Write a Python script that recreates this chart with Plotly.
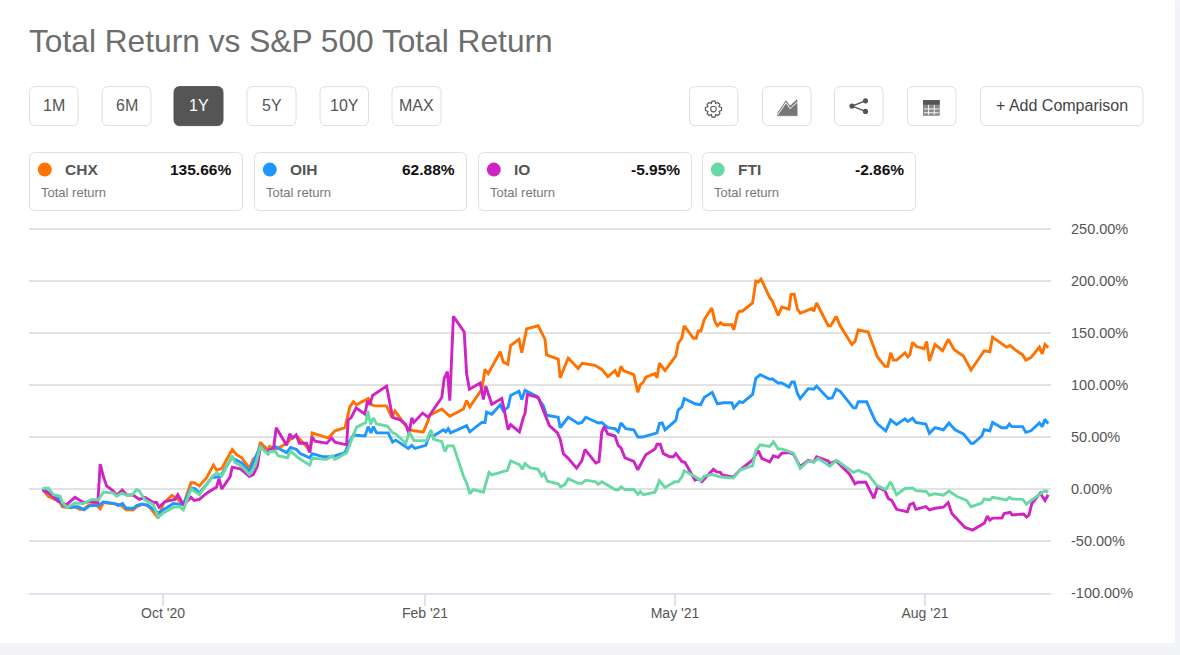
import plotly.graph_objects as go

TITLE = "Total Return vs S&P 500 Total Return"
RANGE_LABELS = ["1M", "6M", "1Y", "5Y", "10Y", "MAX"]
TICKERS = ["CHX", "OIH", "IO", "FTI"]
RETURNS = ["135.66%", "62.88%", "-5.95%", "-2.86%"]
COLORS = ["#FF7200", "#1E96FF", "#D023C4", "#68D8A5"]
Y_TICKS = [250, 200, 150, 100, 50, 0, -50, -100]
Y_LABELS = ["250.00%", "200.00%", "150.00%", "100.00%", "50.00%", "0.00%", "-50.00%", "-100.00%"]
X_TICKS = [30.5, 96, 158.5, 221]
X_LABELS = ["Oct '20", "Feb '21", "May '21", "Aug '21"]

chx_x = [0.4,1.8,3.5,4.3,5.3,7.3,8.5,9.6,10.6,11.8,13.5,14.8,15.6,18.5,19.8,21.3,23.1,23.9,25.2,26.4,27.7,29.3,30.6,32.7,33.9,35.6,37.5,38.3,39.6,41.4,43.1,43.9,45.2,47.8,48.9,50.2,52.1,53.1,54.1,54.8,56.8,
57.2,58.5,60.6,62.7,63.9,66.4,67.2,67.8,71.8,73.5,76,77.2,78.1,78.9,81.8,82.7,83.5,86.4,87.7,88.5,90.2,91.8,93.1,95.6,96.8,97.2,100.2,102.2,105.6,106.4,107.2,110.2,111,111.8,114.8,115.6,116.7,117.4,119.5,120.2,121.4,124.3,126,126.4,129.3,
129.8,131.8,134.3,135.3,138.5,140.2,141.7,143.5,144.3,145,145.6,148.2,149.2,149.8,150.6,151.2,153.5,154,154.6,156,158.7,159.3,160.2,160.8,163.1,163.8,164.3,165,165.8,167.7,168.5,169.1,169.9,170.6,172.7,173.2,174.1,174.6,175.3,177.9,178.7,179.3,180,182.2,182.8,184.3,185.2,187,187.5,188.3,189.1,
189.8,192.7,193.2,193.9,196.8,197.4,198.8,199.8,202.7,203.5,204.3,206.8,209.1,211,211.7,212.4,213.1,213.9,216,216.7,217.2,217.9,218.9,220.8,221.4,222.1,223.5,225.4,226.8,228.3,230.6,231.4,232.5,235.8,237.2,237.9,238.7,241.4,242.3,243.5,245.4,246.2,247.5,249.6,250.3,251,251.8]
chx_y = [0,-7,-10,-9,-17,-18,-17,-19.5,-19.5,-16,-14,-19,-13,-14,-15,-20,-20,-17,-15,-15,-20,-28,-14,-6,-9,-15,6,6,3,11,23,18,20,38,33,30,20,29,32,45,37,
41,38,42,49,51,41,36,54,49,56,59,79,84,81,87,81,80,80,69,75,66,58,56,55,66,71,77,70,77,85,79,96,115,111,132,122,120,138,144,131,154,157,144,129,125,
107,126,116,121,119,115,108,114,108,118,114,110,93,100,103,107.5,111,107,121,114,128,140,145,157,145,145,152,152,163,174,161,157,160,158,158,153,168,171,171,179,200,199,202,184,181,167,175,173,187,187.5,173,
169,173.5,171,179,157,157,166,157,139,142,153,151,127,118,118,131,124,124,131,127,129,141,137,135,142,123,139,133,144,134,128,122,114.5,133,132,146,144,136.5,138,134,129,124,126.5,136.5,130,139,136]

oih_x = [0.4,1.8,4.3,5.3,7.3,9.3,10.8,12.2,14.3,15.6,18.5,19.3,20.4,21.3,23.1,23.9,25.2,26.8,29.3,33.1,35.6,37.5,38.5,39.6,42.7,44.8,47.7,50.2,52.1,54.8,56.8,
57.2,58.5,61.4,62.4,63.9,64.8,67.2,67.8,70.6,72.7,76,77.2,78.1,81,81.8,82.5,83.1,83.9,86.8,87.9,88.7,91.8,92.7,93.5,96.2,97.2,98.1,100.6,101.2,101.8,102.4,106.4,107.2,110.2,111,111.4,112.7,114.8,115.6,116.8,117.4,119.5,120.2,121,124,124.8,125.6,126.4,129.3,
129.8,130.6,131.8,134.3,135.2,136.2,139.3,140.2,141.7,143.5,144.3,145,146.2,148.2,149.2,150.4,153.5,154,154.6,155.3,156,158.7,159.3,160.2,160.8,163.5,164.9,165.8,167.8,169.1,170.6,172.7,173.2,174.6,175.4,177.9,178.7,179.8,182.2,182.8,184.3,185.2,187,187.7,188.3,189.1,
189.8,191.8,193.2,193.9,196.8,197.8,198.8,199.8,203.1,203.7,204.3,206.4,208.5,209.3,211.2,212.4,213.9,216,216.7,217.9,218.7,221.2,222.1,223.5,225.6,227,228.5,230.6,232.5,233.1,235.2,235.8,237.2,237.9,240.2,241.4,242.1,242.7,245.4,246.2,247.5,249.6,250.3,251,251.8]
oih_y = [0,-3,-9,-15,-17.5,-17,-20,-16,-16,-12.5,-14,-16,-14,-18.5,-18.5,-16,-14.5,-16,-23,-14,-15,1,0.5,-4,11,12,30,25,17,41,34,
37,41,35,40,38,34,30,34,31,31,35,46,52,51,60,54,60,54,54,45,47,39,42,39,42,53,51,57,55,58,54,61,55,64,64,74,72,81,75,79,90,94,86,95,89,84,80,71,69,
59,63,69,63,64,69,63.5,64,59,58,55,63.5,58,57,50,50,54,54,63,63.5,57,66,76,79,87,82,81,88,93,82,83,83,78,84,83,91,106.5,110,105.5,106,102,102,98,103,103,92,
87,96.5,96,99,87,87.5,96,94,78,78,84,84,66,62,56,66.5,62,67.5,65,68,64,62.5,53.5,59,57,63.5,57,53,44,44,51,57,56,64,59,59,62.5,60,60,54.5,56,63.5,60,67,63]

io_x = [0.4,2.3,4.3,6.4,8.5,10.6,12.7,14.2,14.8,15.6,16.4,18.1,18.9,20.3,21.4,23.1,24.6,26,28.1,28.9,29.5,31,33.5,34.2,35.6,37.5,38.3,39.6,41.4,43.9,44.5,45.2,47.3,47.8,49.8,52.1,53.1,54.1,54.8,56.8,
57.2,58.1,58.8,61.4,62.2,62.9,63.8,64.6,66.4,67.2,67.8,68.5,71.4,72.7,73.5,76.4,76.8,77.5,78.8,81,81.6,82.2,82.9,86.4,87.9,89.8,91.2,92,92.7,93.2,95.4,96.8,100.2,100.8,101.6,102.2,103.1,105.8,106.4,107.1,109.8,110.6,111.2,112.7,115.2,116,116.8,117.4,119.6,120.6,121,121.6,124.3,127.1,129.1,
129.8,130.6,131.8,133.9,135.2,136,138.7,139.5,140.2,140.8,141.7,143.5,144.3,145,146,148.2,149.2,151.2,153.5,154,154.8,155.6,157.2,158.1,158.7,160.2,161,163.5,164.3,165.2,168.1,168.9,169.8,170.3,173.1,174.8,177.9,179.3,180.2,182.2,183.1,184.3,185.2,187.2,188.1,
189.8,191.8,193.2,193.9,196.8,197.2,198.8,202.2,203.5,204.3,206.2,208.2,209.1,211,211.8,212.7,213.9,216.6,217.2,218.1,218.7,221.2,222.1,223.5,225.6,226.8,227.7,231,232.9,235.8,236.6,237.2,237.9,240.2,240.8,242.3,242.8,245.6,246.4,247,247.7,249.8,251,251.8]
io_y = [-1,-5,-12,-15,-8,-13,-12,-13,24,12,3,-2,-6,-1,-5.5,-6,-10,-8,-13,-13,-17.5,-12,-10,-5.5,-15,-8,-11,-10,-4,2,10,0,12,21,19.5,12,14,22,40,35,
38,38,59,42,53,49,52,44,44,35,50,46,44,49,45,42.5,66.5,68.5,78,72,85,81,90,99,69,66.5,62,53,68.5,64,73,69,88,106.5,113,85,166,151,111,96,102,86,99,81.5,87,71,57,62,55,69,72.5,91,88,61,54,
48,34,29.5,20,27,38,25,26.5,55,60,53,51,42,39.5,30,26.5,18.5,33,38.5,43,43,34,31,31,34,26.5,25.5,8.5,10,7,19,16.5,16,13.5,11.5,18.5,28,37,29.5,26,32,30.5,34.5,35,33.5,
21.5,27.5,26,31,27,24.5,27,14,5,6.5,6.5,-9,2,-1.5,-9,-11,-19.5,-22,-15,-13.5,-19.5,-17,-20,-18.5,-17.5,-13,-23.5,-37,-39.5,-33,-26,-30,-28,-28,-23.5,-22.5,-25,-24,-27,-25,-14,-4,-11,-5.5]

fti_x = [0.4,1.8,3.1,4.8,5.3,6.6,8.5,10.6,12.7,14.3,15.6,18.1,18.9,20.2,21.4,22.7,23.9,24.6,26,28.1,29.3,31,33.1,34.6,35.6,37.5,39.6,42.7,43.9,45.2,47.8,48.5,50.2,52.1,53.5,54.8,56.8,
57.2,58.5,59.3,61.6,62.4,64.3,67.2,67.8,71.4,72.8,73.5,76.4,78.1,78.9,81.2,81.7,82.4,83.1,83.9,86.6,87.9,88.7,91.2,92.1,93.2,96.4,97.5,98.1,100.2,101,101.6,103.1,105.6,106.4,107.2,108.1,110.6,112,112.7,115.6,116.6,117.4,119.6,120.3,121,122.2,124.3,125.2,125.8,126.6,129.3,129.9,
131,131.8,134.3,135.2,136.2,138.7,139.3,140.2,143.5,144.3,145,146,148.2,149.2,149.8,150.6,153.5,154.6,156,158.5,159.3,160.2,160.8,163.5,164.9,165.8,167.8,169.9,173.1,174.8,177.9,178.7,179.8,182.2,183.1,184.3,185.2,188.1,189.8,
191.8,193.2,194.3,197.2,198.9,203.1,204.3,206.8,208.9,211.2,212.4,213.9,216,217.9,218.7,221.4,222.1,223.5,225.6,227,228.9,231.4,232.5,235.2,235.8,237.2,237.9,240.2,241.4,242.1,242.7,245.4,246.4,247.5,251,251.8]
fti_y = [0.5,1,-5.5,-7,-13,-17.5,-13.5,-14,-10,-10.5,-3,-4,-7,-4,-6,-6,-0.5,-2,-10.5,-15,-27,-22,-17.5,-17,-20,0,-5.5,11.5,15.5,12.5,32,25.5,22,14,22,40.5,33.5,
36,36.5,32,30,36.5,30,23,29.5,28.5,32,28.5,35,51,59.5,64,75,62,68.5,62.5,60.5,54,53,44,55,46.5,46.5,57,48,45.5,36,41.5,41.5,12.5,6,-4.5,-0.5,-3,16,13.5,17,18,27,23.5,19,24.5,20.5,19,12.5,15,7.5,5,2,
4.5,10,5.5,5.5,8.5,7,4.5,7,-0.5,-1,2,-0.5,-0.5,-5,-2.5,-5.5,-3,8,1.5,7,7,11.5,17.5,12,8,12.5,14,11.5,10.5,18.5,22.5,37,42.5,41,45.5,38.5,38.5,34.5,20,
27,26,29.5,22,27.5,16,18,14,3.5,-0.5,7,-5.5,0.5,1,-1.5,-2.5,-6,-4.5,-6,-2,-7,-11,-17,-13.5,-9.5,-10.5,-8,-10,-10.5,-8,-9.5,-10,-14.5,-11,-1.5,-3]

# ---- layout geometry (page pixels) ----
W, H = 1180, 655
L, R, T, B = 29, 1051, 226.92, 593
FONT = "Liberation Sans, Arial, sans-serif"


def px(x):
    return (x - L) / (R - L)


def py(y):
    return (B - y) / (B - T)


def rr_path(x0, y0, x1, y1, r):
    a, b, c, d = px(x0), px(x1), py(y0), py(y1)
    rx, ry = r / (R - L), r / (B - T)
    return (f"M{a+rx},{c} L{b-rx},{c} Q{b},{c} {b},{c-ry} L{b},{d+ry} Q{b},{d} {b-rx},{d} "
            f"L{a+rx},{d} Q{a},{d} {a},{d+ry} L{a},{c-ry} Q{a},{c} {a+rx},{c} Z")


def poly(points, close=True):
    s = "M" + " L".join(f"{px(x)},{py(y)}" for x, y in points)
    return s + (" Z" if close else "")


shapes, annos = [], []


def box(x0, y0, x1, y1, r=6, line="#DEDEDE", fill="white", w=1):
    shapes.append(dict(type="path", xref="paper", yref="paper", path=rr_path(x0, y0, x1, y1, r),
                       line=dict(color=line, width=w), fillcolor=fill, layer="below"))


def text(x, y, s, size, color, anchor="left", bold=False):
    annos.append(dict(xref="paper", yref="paper", x=px(x), y=py(y), text=f"<b>{s}</b>" if bold else s,
                      showarrow=False, xanchor=anchor, yanchor="middle", align=anchor,
                      font=dict(family=FONT, size=size, color=color)))


def rect(x0, y0, x1, y1, fill, line=None, w=0, layer="above"):
    shapes.append(dict(type="rect", xref="paper", yref="paper", x0=px(x0), x1=px(x1), y0=py(y0), y1=py(y1),
                       fillcolor=fill, line=dict(color=line or fill, width=w), layer=layer))


def circle(cx, cy, r, fill, line=None, w=0):
    shapes.append(dict(type="circle", xref="paper", yref="paper", x0=px(cx - r), x1=px(cx + r),
                       y0=py(cy - r), y1=py(cy + r), fillcolor=fill,
                       line=dict(color=line or fill, width=w), layer="above"))


def pline(points, color, w, fill=None, close=False):
    shapes.append(dict(type="path", xref="paper", yref="paper", path=poly(points, close),
                       line=dict(color=color, width=w), fillcolor=fill or "rgba(0,0,0,0)", layer="above"))


# page strips
rect(1175, 0, 1180, 655, "#F2F4F8", layer="below")
rect(0, 643, 1180, 655, "#F2F4F8", layer="below")

# range buttons
btn_x = [(29.5, 78), (102, 151), (174, 223), (247, 296), (320, 368.5), (392, 441)]
for (a, b), lab in zip(btn_x, RANGE_LABELS):
    on = lab == "1Y"
    box(a, 86.5, b, 125.5, 6, line="#555555" if on else "#DEDEDE", fill="#555555" if on else "white")
    text((a + b) / 2, 105.5, lab, 16, "white" if on else "#555555", "center")

# tool buttons
for a, b in [(689.5, 738), (762.5, 811), (834.5, 883), (907.5, 956), (980.5, 1143)]:
    box(a, 86.5, b, 125.5, 6)
text(1061.5, 105.5, "+ Add Comparison", 16, "#444444", "center")

# gear icon
gear = [(712, 101), (715, 101), (715.6, 103.4), (717.8, 102.4), (720, 104.4), (719, 106.6), (721.6, 107.4),
        (721.6, 110.4), (719, 111.2), (720, 113.4), (717.8, 115.4), (715.6, 114.4), (715, 117), (712, 117),
        (711.4, 114.4), (709.2, 115.4), (707, 113.4), (708, 111.2), (705.4, 110.4), (705.4, 107.4), (708, 106.6),
        (707, 104.4), (709.2, 102.4), (711.4, 103.4)]
pline(gear, "#555555", 1.1, close=True)
circle(713.5, 109, 2.8, "white", "#555555", 1.1)
# area icon
pline([(777.5, 115.7), (777.5, 113), (786, 100.5), (790, 106), (797, 99.5), (797.3, 115.7)], "#777777", 0.5,
      fill="#777777", close=True)
pline([(777.5, 115), (786, 102.5), (790, 108.5), (797.3, 102)], "white", 1)
# share icon
pline([(865.5, 100.7), (852, 106), (865.5, 111.3)], "#555555", 1.4)
circle(865.5, 100.7, 2.6, "#555555")
circle(852, 106, 2.6, "#555555")
circle(865.5, 111.3, 2.6, "#555555")
# table icon
rect(923, 100, 939.7, 115.7, "#8A8A8A")
rect(923, 100, 939.7, 104.6, "#555555")
for ry in (108.4, 112.2):
    rect(924, ry, 938.7, ry + 0.9, "white")
for vx in (928.2, 933.8):
    rect(vx, 104.6, vx + 0.9, 115, "white")

# legend cards
cards = [(29.5, 242.5), (254.5, 466.5), (478.5, 691.5), (702.5, 915.5)]
for (a, b), t, v, c in zip(cards, TICKERS, RETURNS, COLORS):
    box(a, 152.5, b, 210.5, 6)
    circle(a + 15.3, 169.5, 7, c)
    text(a + 33, 169.5, t, 15.5, "#555555", bold=True)
    text(b - 9.5, 169.5, v, 15.5, "#111111", "right", bold=True)
    text(a + 9, 192, "Total return", 13, "#777777")

fig = go.Figure()
series = [(chx_x, chx_y), (oih_x, oih_y), (io_x, io_y), (fti_x, fti_y)]
for (sx, sy), t, c in zip(series, TICKERS, COLORS):
    fig.add_trace(go.Scatter(x=sx, y=sy, mode="lines", name=t, line=dict(color=c, width=2.9, shape="linear"),
                             showlegend=False, hoverinfo="x+y"))

fig.update_layout(
    width=W, height=H, autosize=False,
    margin=dict(l=L, r=W - R, t=T, b=H - B, pad=0),
    paper_bgcolor="white", plot_bgcolor="rgba(0,0,0,0)",
    title=dict(text=TITLE, x=29 / W, xanchor="left", y=1 - 41 / H, yanchor="middle",
               font=dict(family=FONT, size=31.7, color="#6E6E6E")),
    font=dict(family=FONT),
    shapes=shapes, annotations=annos,
    xaxis=dict(range=[-3, 252.5], tickvals=X_TICKS, ticktext=X_LABELS, showgrid=False, zeroline=False,
               showline=True, linecolor="#DCE2EE", linewidth=1.5, ticks="outside", ticklen=11,
               tickcolor="#DCE2EE", tickwidth=1.5, ticklabelstandoff=-5,
               tickfont=dict(family=FONT, size=14, color="#555555")),
    yaxis=dict(range=[-100, 252], side="right", tickvals=Y_TICKS, ticktext=Y_LABELS, showgrid=True,
               gridcolor="#E2E2E2", gridwidth=1.5, zeroline=False, showline=False, ticks="",
               ticklabelstandoff=19, tickfont=dict(family=FONT, size=14.5, color="#555555")),
)

fig.write_html("out.html", config={"displayModeBar": False},
               post_script="document.body.style.margin='0';document.body.style.overflow='hidden';")
